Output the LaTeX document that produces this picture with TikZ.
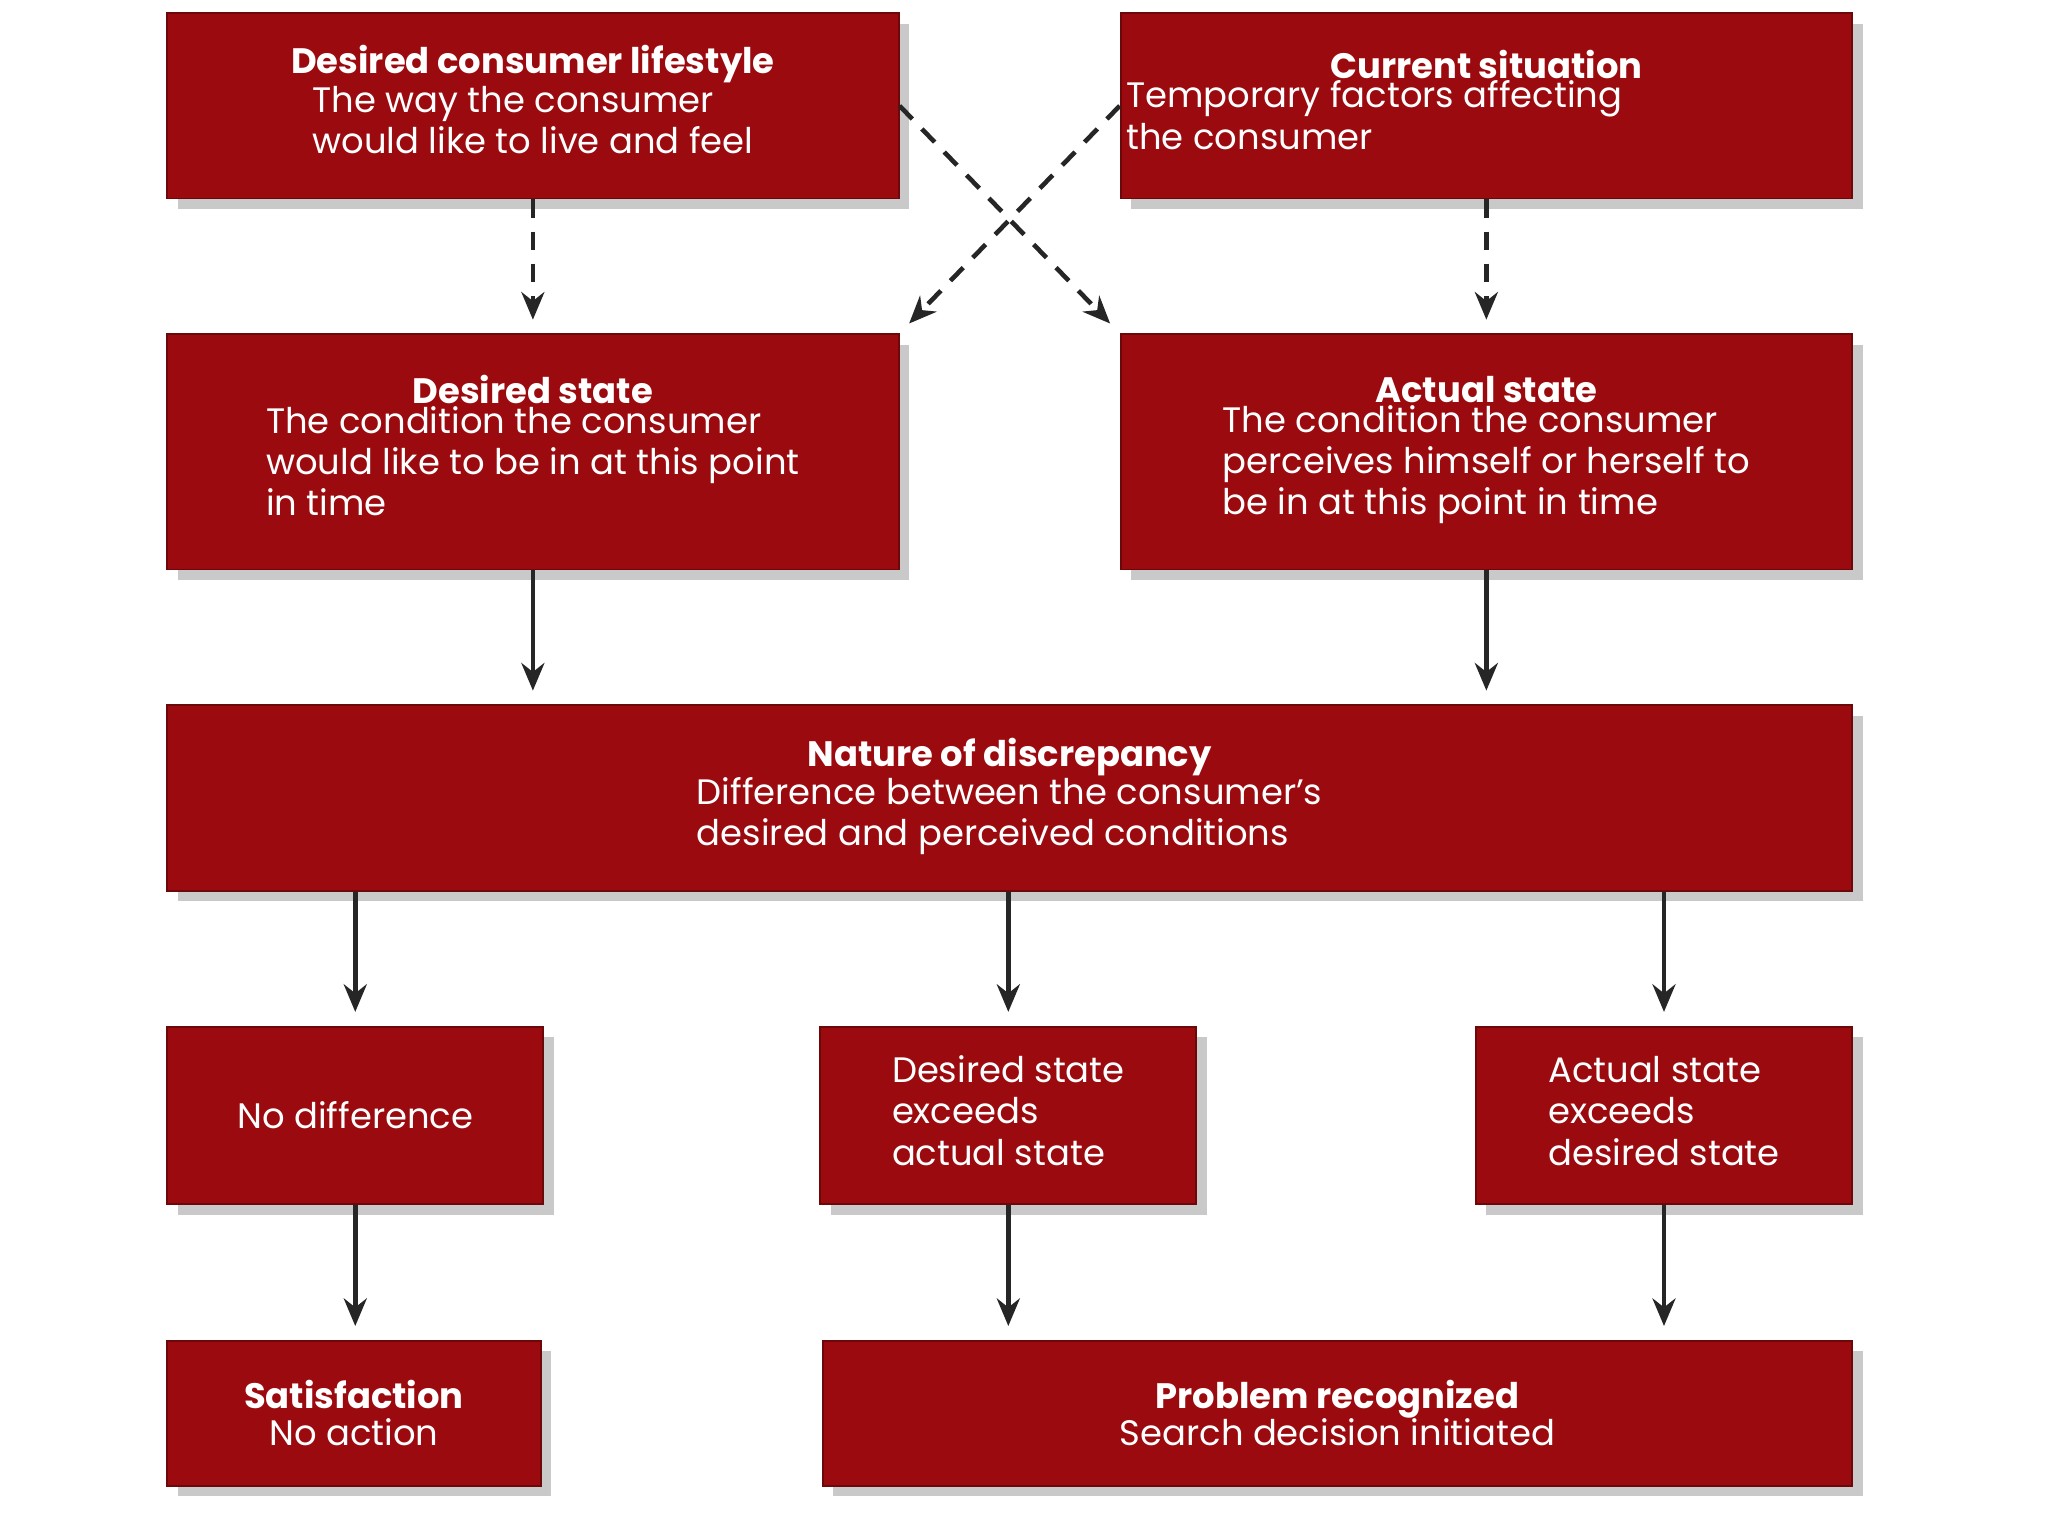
\documentclass[tikz,border=0pt]{standalone}
\usepackage{fontspec}
\setmainfont{Poppins}
\usetikzlibrary{shadows,arrows.meta}
\definecolor{boxred}{HTML}{9B0A0E}
\begin{document}
\begin{tikzpicture}[x=0.01cm,y=-0.01cm,
  box/.style={rectangle,fill=boxred,draw=boxred!70!black,line width=0.4pt,text=white,
    font=\fontsize{7.7pt}{9pt}\selectfont,align=center,inner sep=0pt,
    drop shadow={shadow xshift=0.08cm,shadow yshift=-0.08cm,opacity=0.35,fill=black!60}},
  arr/.style={-{Stealth[length=6pt,width=5pt]},line width=1pt,black!85,shorten >=3pt},
  dsh/.style={arr,dash pattern=on 4pt off 3pt}]
\fill[white] (0,0) rectangle (1568,1176);
\useasboundingbox (0,0) rectangle (1568,1176);
\newcommand{\bx}[6]{\node[box,minimum width=#4*0.01cm,minimum height=#5*0.01cm] (#1) at (#2,#3) {#6};}
\newcommand{\body}[1]{\begin{tabular}{@{}l@{}}#1\end{tabular}}
\bx{b1}{408}{81}{560}{142}{\textbf{Desired consumer lifestyle}\\[-1pt]\body{The way the consumer\\would like to live and feel}}
\bx{b2}{1138}{81}{560}{142}{\textbf{Current situation}\\[-1pt]\body{Temporary factors affecting\\the consumer\phantom{mmmmmmmmmmmmm}}}
\bx{b3}{408}{346}{560}{180}{\textbf{Desired state}\\[-1pt]\body{The condition the consumer\\would like to be in at this point\\in time}}
\bx{b4}{1138}{346}{560}{180}{\textbf{Actual state}\\[-1pt]\body{The condition the consumer\\perceives himself or herself to\\be in at this point in time}}
\bx{b5}{773}{611}{1290}{142}{\textbf{Nature of discrepancy}\\[-1pt]\body{Difference between the consumer’s\\desired and perceived conditions}}
\bx{b6}{272}{854}{288}{136}{No difference}
\bx{b7}{772}{854}{288}{136}{\body{Desired state\\exceeds\\actual state}}
\bx{b8}{1274}{854}{288}{136}{\body{Actual state\\exceeds\\desired state}}
\bx{b9}{271}{1082}{286}{111}{\textbf{Satisfaction}\\[-1pt]No action}
\bx{b10}{1024}{1082}{788}{111}{\textbf{Problem recognized}\\[-1pt]Search decision initiated}
\draw[dsh] (b1.south) -- (b3.north);
\draw[dsh] (b2.south) -- (b4.north);
\draw[dsh] (b1.east) -- (b4.north west);
\draw[dsh] (b2.west) -- (b3.north east);
\draw[arr] (b3.south) -- (b3.south |- b5.north);
\draw[arr] (b4.south) -- (b4.south |- b5.north);
\draw[arr] (b5.south -| b6.north) -- (b6.north);
\draw[arr] (b5.south -| b7.north) -- (b7.north);
\draw[arr] (b5.south -| b8.north) -- (b8.north);
\draw[arr] (b6.south) -- (b6.south |- b9.north);
\draw[arr] (b7.south) -- (b7.south |- b10.north);
\draw[arr] (b8.south) -- (b8.south |- b10.north);
\end{tikzpicture}
\end{document}
